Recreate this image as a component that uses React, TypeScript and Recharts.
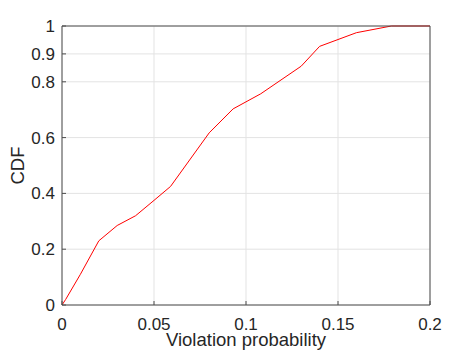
import { LineChart, Line, XAxis, YAxis, CartesianGrid, Label } from "recharts";

const AXIS_COLOR = "#4d4d4d";
const TEXT_COLOR = "#262626";
const GRID_COLOR = "#e3e3e3";
const LINE_RED = "#ff0000";
const FONT = '"Liberation Sans", Arial, Helvetica, sans-serif';

const violationProb = [0, 0.002, 0.01, 0.02, 0.03, 0.04, 0.05, 0.059, 0.08, 0.093, 0.108, 0.13, 0.14, 0.16, 0.179, 0.2];
const cdf = [0, 0.02, 0.11, 0.23, 0.285, 0.32, 0.375, 0.425, 0.617, 0.703, 0.757, 0.856, 0.927, 0.976, 1, 1];

const xTicks = [0, 0.05, 0.1, 0.15, 0.2];
const yTicks = [0, 0.2, 0.4, 0.6, 0.8, 0.9, 1];

const data = violationProb.map((x, i) => ({ x, cdf: cdf[i] }));

const tickStyle = { fill: TEXT_COLOR, fontSize: 17, fontFamily: FONT };

export default function App() {
  return (
    <div style={{ position: "absolute", left: 0, top: 0, background: "#fff" }}>
      <LineChart
        width={474}
        height={356}
        data={data}
        margin={{ top: 25, right: 43, left: 22, bottom: 21 }}
      >
        <CartesianGrid stroke={GRID_COLOR} strokeWidth={1} />

        {/* ── Bottom / left axes with labels ── */}
        <XAxis
          dataKey="x"
          type="number"
          domain={[0, 0.2]}
          ticks={xTicks}
          interval={0}
          height={30}
          tick={tickStyle}
          tickSize={-4}
          tickMargin={17}
          axisLine={{ stroke: AXIS_COLOR }}
          tickLine={{ stroke: AXIS_COLOR }}
        >
          <Label
            value="Violation probability"
            position="bottom"
            offset={-2}
            style={{ fill: TEXT_COLOR, fontSize: 18.5, fontFamily: FONT }}
          />
        </XAxis>
        <YAxis
          type="number"
          domain={[0, 1]}
          ticks={yTicks}
          interval={0}
          width={40}
          tick={tickStyle}
          tickSize={-4}
          tickMargin={11}
          axisLine={{ stroke: AXIS_COLOR }}
          tickLine={{ stroke: AXIS_COLOR }}
        >
          <Label
            value="CDF"
            angle={-90}
            position="insideLeft"
            offset={-4.5}
            style={{ fill: TEXT_COLOR, fontSize: 18.5, fontFamily: FONT, textAnchor: "middle" }}
          />
        </YAxis>

        {/* ── Mirrored box axes (ticks only) ── */}
        <XAxis
          xAxisId="top"
          orientation="top"
          dataKey="x"
          type="number"
          domain={[0, 0.2]}
          ticks={xTicks}
          interval={0}
          height={1}
          tick={false}
          tickSize={-4}
          axisLine={{ stroke: AXIS_COLOR }}
          tickLine={{ stroke: AXIS_COLOR }}
        />
        <YAxis
          yAxisId="right"
          orientation="right"
          type="number"
          domain={[0, 1]}
          ticks={yTicks}
          interval={0}
          width={1}
          tick={false}
          tickSize={-4}
          axisLine={{ stroke: AXIS_COLOR }}
          tickLine={{ stroke: AXIS_COLOR }}
        />

        <Line
          type="linear"
          dataKey="cdf"
          stroke={LINE_RED}
          strokeWidth={1}
          dot={false}
          activeDot={false}
          isAnimationActive={false}
        />
      </LineChart>
    </div>
  );
}
